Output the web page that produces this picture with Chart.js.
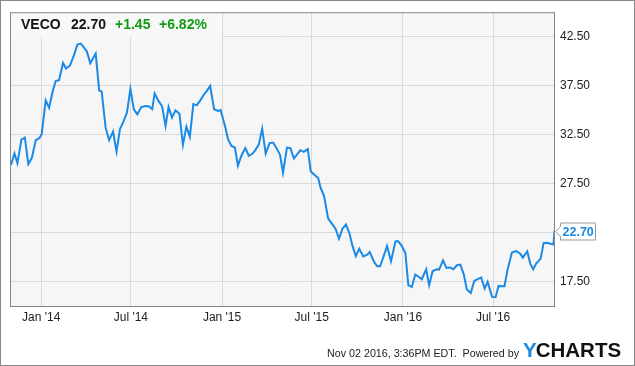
<!DOCTYPE html>
<html>
<head>
<meta charset="utf-8">
<script src="https://cdn.jsdelivr.net/npm/chart.js@4/dist/chart.umd.min.js"></script>
<style>
  html, body { margin: 0; padding: 0; background: #fff; }
  canvas { display: block; }
</style>
</head>
<body>
<canvas id="myChart" width="635" height="366"></canvas>
<script>
// weekly closes, x = days since Jan 1 2014
const days = [-61, -54, -48, -40, -33, -26, -19, -11, -4, 1, 9, 16, 23, 29, 36, 44, 50, 58, 66, 73,
  80, 86, 92, 99, 110, 117, 122, 130, 137, 145, 152, 159, 166, 173, 180, 187, 194, 202, 210, 217,
  224, 229, 237, 244, 251, 257, 264, 271, 279, 286, 293, 300, 307, 314, 321, 328, 334, 341, 349, 357,
  362, 371, 377, 384, 391, 397, 404, 412, 419, 426, 431, 439, 446, 453, 461, 468, 475, 482, 488, 496,
  503, 510, 517, 523, 530, 538, 544, 552, 559, 564, 571, 579, 587, 594, 601, 608, 615, 622, 628, 635,
  642, 650, 658, 663, 672, 678, 684, 691, 698, 706, 715, 720, 727, 735, 741, 748, 755, 762, 768, 777,
  783, 790, 799, 803, 811, 818, 826, 832, 839, 846, 853, 859, 867, 874, 883, 888, 895, 901, 910, 917,
  923, 929, 935, 941, 950, 959, 967, 972, 981, 987, 993, 999, 1008, 1014, 1021, 1028, 1034, 1036];

const prices = [29.39, 30.57, 29.59, 31.99, 32.20, 29.49, 30.10, 31.93, 32.13, 32.54, 36.00, 35.24, 36.87, 37.96, 38.06, 39.82, 39.25, 39.55, 40.60, 41.69,
  41.79, 41.41, 41.01, 39.79, 40.77, 37.01, 36.91, 33.21, 31.93, 32.80, 30.77, 33.08, 33.82, 34.74, 37.17, 35.08, 34.57, 35.31, 35.42, 35.39,
  35.11, 36.71, 35.92, 35.39, 33.38, 35.31, 34.23, 34.98, 34.63, 31.45, 33.31, 32.27, 35.62, 35.49, 36.00, 36.57, 36.94, 37.48, 35.08, 34.91,
  35.01, 33.38, 32.03, 31.35, 31.18, 29.32, 30.34, 31.12, 30.34, 30.54, 30.84, 31.45, 33.11, 30.57, 31.63, 31.69, 31.12, 30.44, 28.61, 31.18,
  31.12, 30.06, 30.51, 30.91, 30.74, 31.02, 28.74, 28.37, 28.07, 27.05, 26.20, 23.96, 23.39, 22.89, 21.87, 22.89, 23.32, 22.44, 21.19, 20.10,
  20.85, 20.07, 20.24, 20.51, 19.49, 19.05, 19.05, 20.07, 21.12, 19.56, 21.60, 21.63, 21.19, 20.41, 17.12, 16.95, 18.21, 17.99, 17.73, 18.75,
  17.12, 18.58, 18.75, 18.72, 19.66, 18.88, 18.92, 18.75, 19.16, 19.23, 18.21, 16.69, 16.34, 17.56, 17.80, 17.91, 16.79, 17.46, 15.93, 15.90,
  17.05, 17.02, 17.02, 18.65, 20.45, 20.61, 20.35, 19.94, 20.58, 19.33, 18.75, 19.33, 19.84, 21.42, 21.46, 21.36, 21.29, 22.70];

const xTickDays = [0, 181, 365, 546, 730, 912];
const xTickLabels = ["Jan '14", "Jul '14", "Jan '15", "Jul '15", "Jan '16", "Jul '16"];
const yTicks = [17.5, 22.5, 27.5, 32.5, 37.5, 42.5];

const ticker = 'VECO';
const lastPrice = '22.70';
const change = '+1.45';
const changePct = '+6.82%';
const stamp = 'Nov 02 2016, 3:36PM EDT.  Powered by';

const blue = '#1a8ae6';
const font = '"Liberation Sans", Arial, sans-serif';

const points = days.map((d, i) => ({ x: d, y: prices[i] }));

//******** Extra drawing (frame, header, footer, price tag) ********
const decor = {
  id: 'decor',
  beforeDraw(chart) {
    const c = chart.ctx;
    const a = chart.chartArea;
    c.save();
    c.fillStyle = '#fff';
    c.fillRect(0, 0, chart.width, chart.height);
    c.fillStyle = '#f6f6f6';
    c.fillRect(a.left, a.top, a.right - a.left, a.bottom - a.top);
    c.restore();
  },
  afterDatasetsDraw(chart) {
    const c = chart.ctx;
    const a = chart.chartArea;
    c.save();

    // header box
    c.fillStyle = '#f8f8f8';
    c.fillRect(a.left + 1, a.top + 1, 211, 24);
    c.textBaseline = 'alphabetic';
    c.font = 'bold 14px ' + font;
    c.fillStyle = '#111';
    c.fillText(ticker, 21, 29);
    c.fillText(lastPrice, 71, 29);
    c.fillStyle = '#139a13';
    c.fillText(change, 115, 29);
    c.fillText(changePct, 159, 29);

    // plot frame
    c.strokeStyle = '#858585';
    c.lineWidth = 1;
    c.strokeRect(a.left + 0.5, a.top + 0.5, a.right - a.left - 1, a.bottom - a.top);

    // outer frame
    c.strokeStyle = '#8a8a8a';
    c.strokeRect(0.5, 0.5, chart.width - 1, chart.height - 1);

    // last price tag
    const y = Math.round(chart.scales.y.getPixelForValue(prices[prices.length - 1])) + 0.5;
    const bx = a.right + 5.5, bw = 35, bh = 17;
    c.beginPath();
    c.moveTo(a.right + 0.5, y);
    c.lineTo(bx, y - 5);
    c.lineTo(bx, y - bh / 2);
    c.lineTo(bx + bw, y - bh / 2);
    c.lineTo(bx + bw, y + bh / 2);
    c.lineTo(bx, y + bh / 2);
    c.lineTo(bx, y + 5);
    c.closePath();
    c.fillStyle = '#fff';
    c.fill();
    c.strokeStyle = '#9a9a9a';
    c.stroke();
    c.fillStyle = blue;
    c.font = 'bold 12.5px ' + font;
    c.textBaseline = 'middle';
    c.fillText(lastPrice, bx + 2, y + 1);

    // footer
    c.textBaseline = 'alphabetic';
    c.font = '10.7px ' + font;
    c.fillStyle = '#222';
    c.textAlign = 'right';
    c.fillText(stamp, 519, 357);
    c.textAlign = 'left';
    c.font = 'bold 20.5px ' + font;
    c.fillStyle = blue;
    c.fillText('Y', 523, 357);
    const yw = c.measureText('Y').width;
    c.fillStyle = '#111';
    c.fillText('CHARTS', 523 + yw - 1, 357);
    c.restore();
  }
};

const ctx = document.getElementById('myChart').getContext('2d');
const myChart = new Chart(ctx, {
  type: 'line',
  data: {
    datasets: [{
      data: points,
      borderColor: blue,
      borderWidth: 2,
      pointRadius: 0,
      tension: 0,
      fill: false
    }]
  },
  options: {
    responsive: false,
    animation: false,
    layout: { padding: { left: 10, top: 10, right: 0, bottom: 0 } },
    plugins: {
      legend: { display: false },
      tooltip: { enabled: false }
    },
    scales: {
      x: {
        type: 'linear',
        min: -63,
        max: 1037,
        afterBuildTicks: (s) => { s.ticks = xTickDays.map(v => ({ value: v })); },
        afterFit: (s) => { s.height = 60; },
        grid: { color: '#d9d9d9', drawTicks: false },
        border: { display: false },
        ticks: {
          padding: 4,
          color: '#222',
          font: { family: font, size: 12 },
          maxRotation: 0,
          autoSkip: false,
          callback: (v) => xTickLabels[xTickDays.indexOf(v)]
        }
      },
      y: {
        position: 'right',
        min: 15,
        max: 45,
        afterBuildTicks: (s) => { s.ticks = yTicks.map(v => ({ value: v })); },
        afterFit: (s) => { s.width = 80; },
        grid: { color: '#d9d9d9', drawTicks: false },
        border: { display: false },
        ticks: {
          padding: 5,
          color: '#222',
          font: { family: font, size: 12 },
          callback: (v) => v === 22.5 ? '' : v.toFixed(2)
        }
      }
    }
  },
  plugins: [decor]
});
</script>
</body>
</html>
